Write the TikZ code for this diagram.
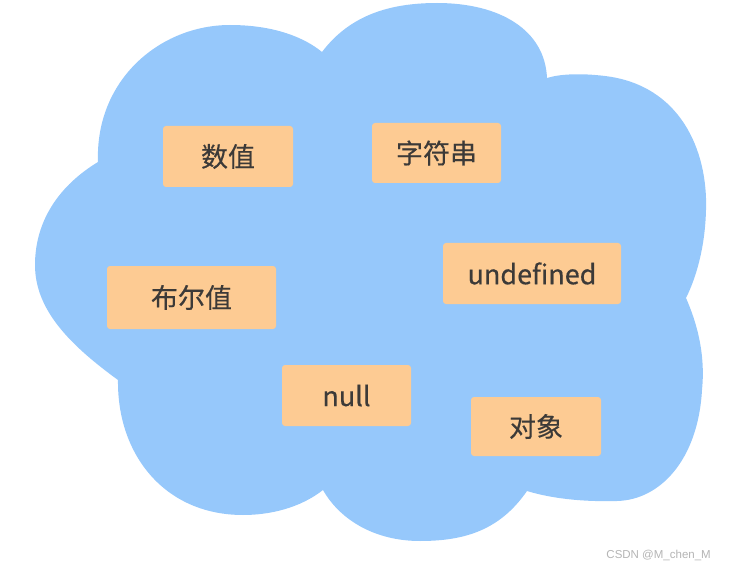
\documentclass[tikz,border=0pt]{standalone}
\usepackage{fontspec}
\newfontfamily\cjk{Noto Sans CJK SC}[FakeBold=0.35]
\newfontfamily\wm{Liberation Sans}
\definecolor{cloudblue}{HTML}{96C8FB}
\definecolor{boxpeach}{HTML}{FDCB93}
\definecolor{txtgray}{HTML}{3C3A38}
\definecolor{wmgray}{HTML}{B4B4B4}
\tikzset{
  typebox/.style={rectangle, rounded corners=3pt, fill=boxpeach, inner sep=0pt,
    text=txtgray, font=\cjk\fontsize{27}{30}\selectfont},
}
\begin{document}
\begin{tikzpicture}[x=1pt,y=-1pt]
\useasboundingbox (0,0) rectangle (729,567);
% cloud
\fill[cloudblue]
  (98,162) .. controls (95,80) and (160,25) .. (230,25)
  .. controls (275,25) and (305,38) .. (322,52)
  .. controls (350,15) and (390,3) .. (437,3)
  .. controls (500,3) and (545,30) .. (547,78)
  .. controls (560,74) and (580,73) .. (605,76)
  .. controls (680,85) and (708,150) .. (706,210)
  .. controls (705,250) and (695,280) .. (686,298)
  .. controls (700,330) and (705,360) .. (702,390)
  .. controls (698,460) and (660,500) .. (617,501)
  .. controls (580,502) and (550,498) .. (527,491)
  .. controls (500,530) and (465,541) .. (420,541)
  .. controls (375,541) and (340,520) .. (323,490)
  .. controls (300,508) and (270,515) .. (243,515)
  .. controls (165,515) and (117,455) .. (118,380)
  .. controls (70,345) and (35,310) .. (35,265)
  .. controls (35,220) and (60,185) .. (98,162) -- cycle;
% boxes
\node[typebox, minimum width=130pt, minimum height=61pt] (num) at (228,156.5) {数值};
\node[typebox, minimum width=129pt, minimum height=60pt] (str) at (436.5,153) {字符串};
\node[typebox, minimum width=178pt, minimum height=61pt] (undef) at (532,273.5) {undefined};
\node[typebox, minimum width=169pt, minimum height=63pt] (bool) at (191.5,297.5) {布尔值};
\node[typebox, minimum width=129pt, minimum height=61pt] (nul) at (346.5,395.5) {null};
\node[typebox, minimum width=130pt, minimum height=59pt] (obj) at (536,426.5) {对象};
% watermark
\node[anchor=east, inner sep=0pt, text=wmgray, font=\wm\fontsize{11.5}{13}\selectfont] (mark) at (711,555) {CSDN @M\_chen\_M};
\end{tikzpicture}
\end{document}
